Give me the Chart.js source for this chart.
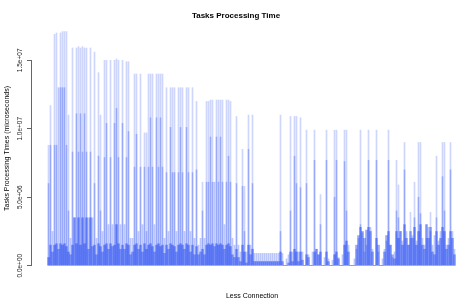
<!DOCTYPE html>
<html>
<head>
<meta charset="utf-8">
<script src="https://cdn.jsdelivr.net/npm/chart.js@4"></script>
<style>
  html, body { margin: 0; padding: 0; background: #fff; }
</style>
</head>
<body>
<canvas id="tasksChart" width="474" height="305"></canvas>
<script>
// values in millions of microseconds, one slot per task group
var peakTimes = [
  8.8, 11.7, 0, 16.9, 17.0, 0, 17.0, 17.1, 17.1, 17.1,
  11.0, 0, 15.9, 0, 15.9, 16.0, 15.9, 16.0, 15.9, 15.9,
  0, 15.9, 0, 15.6, 0, 14.1, 11.0, 0, 15.0, 15.0,
  0, 15.0, 0, 15.0, 15.1, 15.0, 0, 15.0, 0, 14.9,
  14.9, 0, 0, 14.0, 14.0, 0, 14.0, 0, 9.7, 9.7,
  14.0, 14.0, 14.0, 0, 14.0, 14.0, 14.0, 14.0, 0, 13.0,
  0, 13.0, 13.0, 13.0, 0, 13.0, 13.0, 13.0, 0, 13.0,
  13.0, 0, 13.0, 0, 12.0, 0, 0, 6.1, 0, 12.0,
  12.0, 12.1, 12.1, 0, 12.1, 12.1, 12.1, 12.1, 0, 12.1,
  12.1, 12.0, 0, 0, 10.9, 0, 0, 8.5, 5.8, 0,
  11.0, 0, 11.0, 0, 0, 0, 0, 0, 0, 0,
  0, 0, 0, 0, 0, 0, 11.0, 0, 0, 0,
  0, 10.9, 0, 10.9, 10.9, 0, 10.8, 0, 0, 9.9,
  0, 0, 0, 9.9, 0, 0, 5.2, 0, 0, 9.9,
  0, 0, 0, 9.9, 9.9, 0, 0, 0, 9.9, 9.9,
  0, 0, 0, 0, 0, 0, 9.9, 0, 0, 0,
  9.9, 0, 0, 0, 9.9, 0, 0, 0, 0, 0,
  9.9, 0, 0, 0, 7.7, 5.9, 0, 0, 9.0, 0,
  0, 3.9, 0, 6.1, 0, 9.0, 9.0, 0, 0, 3.0,
  0, 3.9, 0, 0, 8.0, 0, 0, 9.0, 9.0, 0,
  0, 9.0, 0, 0
];

var midTimes = [
  6.0, 8.8, 2.5, 8.8, 8.8, 13.0, 13.0, 13.0, 13.0, 8.8,
  4.0, 2.0, 8.3, 3.5, 11.1, 8.3, 11.1, 8.3, 11.1, 8.3,
  3.5, 8.3, 3.5, 6.0, 2.0, 8.0, 4.0, 2.5, 7.9, 10.4,
  3.0, 7.9, 3.0, 10.4, 11.5, 7.9, 3.0, 10.4, 3.0, 7.9,
  9.8, 2.0, 2.0, 7.2, 9.6, 2.5, 7.2, 3.0, 7.2, 2.5,
  7.2, 10.8, 7.2, 3.0, 10.8, 7.2, 10.8, 7.2, 2.0, 6.8,
  2.5, 10.1, 6.8, 6.8, 2.5, 6.8, 10.1, 6.8, 2.5, 10.1,
  6.8, 2.5, 6.8, 2.0, 7.0, 1.5, 2.0, 4.0, 2.0, 6.1,
  6.1, 9.4, 6.1, 6.1, 9.4, 6.1, 9.4, 6.1, 3.0, 6.1,
  8.0, 6.1, 2.0, 1.5, 6.0, 1.5, 1.0, 5.8, 2.5, 1.0,
  8.5, 1.5, 6.0, 0.9, 0.9, 0.9, 0.9, 0.9, 0.9, 0.9,
  0.9, 0.9, 0.9, 0.9, 0.9, 0.9, 2.5, 0.9, 0, 0.5,
  0.8, 4.0, 1.0, 8.0, 6.0, 1.0, 5.7, 1.0, 0, 6.0,
  0.8, 0, 1.0, 7.7, 1.2, 0.8, 3.0, 0, 0.6, 7.7,
  0.5, 0, 0.4, 5.0, 7.7, 0.6, 0, 0.8, 7.6, 4.0,
  1.5, 0, 0, 0.5, 1.2, 2.0, 3.0, 2.4, 1.0, 1.5,
  7.7, 2.8, 1.2, 0, 7.7, 1.0, 0, 0.5, 1.2, 1.8,
  7.7, 1.5, 0.6, 1.0, 4.0, 3.5, 2.5, 1.8, 7.0, 2.5,
  1.5, 2.0, 2.2, 3.5, 1.8, 5.0, 3.8, 2.0, 1.5, 2.0,
  2.8, 2.5, 1.5, 2.2, 3.5, 1.8, 2.5, 6.5, 4.0, 1.5,
  2.0, 7.0, 2.5, 1.2
];

var baseTimes = [
  0.6, 1.5, 1.0, 1.5, 1.6, 1.2, 1.6, 1.5, 1.6, 1.4,
  1.0, 0.8, 1.5, 3.5, 1.6, 3.5, 1.5, 3.5, 1.6, 3.5,
  1.2, 3.5, 1.4, 1.5, 0.8, 1.6, 1.4, 1.0, 1.5, 1.6,
  1.2, 1.6, 1.4, 1.5, 3.0, 1.6, 1.2, 1.5, 1.2, 1.6,
  1.5, 0.8, 1.0, 1.5, 1.6, 1.2, 1.5, 1.0, 1.6, 1.2,
  1.5, 1.6, 1.4, 1.0, 1.5, 1.6, 1.4, 1.5, 0.9, 1.5,
  1.2, 1.6, 1.5, 1.4, 1.0, 1.5, 1.6, 1.5, 1.2, 1.6,
  1.5, 1.0, 1.5, 0.8, 1.4, 0.8, 1.0, 1.2, 0.8, 1.5,
  1.6, 1.5, 1.6, 1.4, 1.6, 1.5, 1.6, 1.5, 1.2, 1.5,
  1.6, 1.4, 0.8, 0.6, 1.2, 0.6, 0.3, 1.5, 1.0, 0.2,
  1.5, 0.8, 1.2, 0.3, 0.3, 0.3, 0.3, 0.3, 0.3, 0.3,
  0.3, 0.3, 0.3, 0.3, 0.3, 0.3, 1.0, 0.3, 0, 0,
  0.2, 1.0, 0.3, 1.2, 1.0, 0.3, 1.0, 0.4, 0, 0.8,
  0.6, 0, 0, 1.0, 1.2, 0.8, 1.0, 0, 0, 1.0,
  0.3, 0, 0, 0.8, 1.0, 0.5, 0, 0, 1.5, 1.8,
  1.0, 0, 0, 0, 1.5, 2.2, 2.8, 2.5, 2.0, 2.6,
  2.8, 2.5, 1.0, 0, 2.0, 1.5, 0, 0, 1.0, 2.2,
  2.5, 1.5, 0.8, 0.5, 2.5, 2.0, 2.5, 1.5, 3.0, 2.0,
  1.5, 2.5, 2.0, 2.8, 1.5, 2.5, 3.0, 1.5, 1.2, 3.0,
  2.0, 2.8, 1.0, 0.8, 2.5, 1.5, 2.0, 2.8, 2.5, 1.2,
  1.5, 2.5, 2.0, 0.8
];

var yTicks = [0, 5, 10, 15];

var slots = peakTimes.map(function (v, i) { return i; });
var fontFamily = '"Liberation Sans", Arial, sans-serif';

function rExp(v) {
  var s = (v * 1e6).toExponential(1);
  return s.replace(/e([+-])(\d)$/, function (m, sign, d) { return 'e' + sign + '0' + d; });
}

// R style axis: the line only spans the first to the last tick
var axisLine = {
  id: 'axisLine',
  afterDraw: function (chart) {
    var y = chart.scales.y;
    var ctx = chart.ctx;
    var x = Math.round(y.right) - 0.5;
    ctx.save();
    ctx.strokeStyle = '#666';
    ctx.lineWidth = 1;
    ctx.beginPath();
    ctx.moveTo(x, y.getPixelForValue(yTicks[0]));
    ctx.lineTo(x, y.getPixelForValue(yTicks[yTicks.length - 1]));
    ctx.stroke();
    ctx.restore();
  }
};

var ctx = document.getElementById('tasksChart');
var myChart = new Chart(ctx, {
  type: 'bar',
  data: {
    labels: slots,
    datasets: [{
      label: 'peak',
      data: peakTimes,
      backgroundColor: 'rgba(10, 50, 240, 0.2)',
      barThickness: 1,
      grouped: false
    }, {
      label: 'mid',
      data: midTimes,
      backgroundColor: 'rgba(10, 50, 240, 0.28)',
      barThickness: 1,
      grouped: false
    }, {
      label: 'base',
      data: baseTimes,
      backgroundColor: 'rgba(30, 70, 240, 0.45)',
      barThickness: 2,
      grouped: false
    }]
  },
  options: {
    responsive: false,
    animation: false,
    layout: { padding: { left: 0, right: 2, top: 0, bottom: 0 } },
    plugins: {
      legend: { display: false },
      tooltip: { enabled: false },
      title: {
        display: true,
        text: 'Tasks Processing Time',
        color: '#000',
        font: { family: fontFamily, size: 8, weight: 'bold' },
        padding: { top: 11, bottom: 1.4 }
      }
    },
    scales: {
      x: {
        type: 'linear',
        offset: false,
        min: -8.25,
        max: 211.75,
        grid: { display: false, drawTicks: false },
        border: { display: false },
        ticks: { display: false },
        title: {
          display: true,
          text: 'Less Connection',
          color: '#000',
          font: { family: fontFamily, size: 7 },
          padding: { top: 16.8, bottom: 4.8 }
        }
      },
      y: {
        min: -0.68,
        max: 17.8,
        afterFit: function (s) { s.width = 32; },
        afterBuildTicks: function (s) { s.ticks = yTicks.map(function (v) { return { value: v }; }); },
        grid: { drawOnChartArea: false, tickLength: 5, color: '#666' },
        border: { display: false },
        ticks: {
          minRotation: 90,
          maxRotation: 90,
          crossAlign: 'center',
          padding: -5,
          color: '#222',
          font: { family: fontFamily, size: 6.5 },
          callback: rExp
        },
        title: {
          display: true,
          text: 'Tasks Processing Times (microseconds)',
          color: '#000',
          font: { family: fontFamily, size: 7 },
          padding: { top: 2.8, bottom: 0 }
        }
      }
    }
  },
  plugins: [axisLine]
});
</script>
</body>
</html>
